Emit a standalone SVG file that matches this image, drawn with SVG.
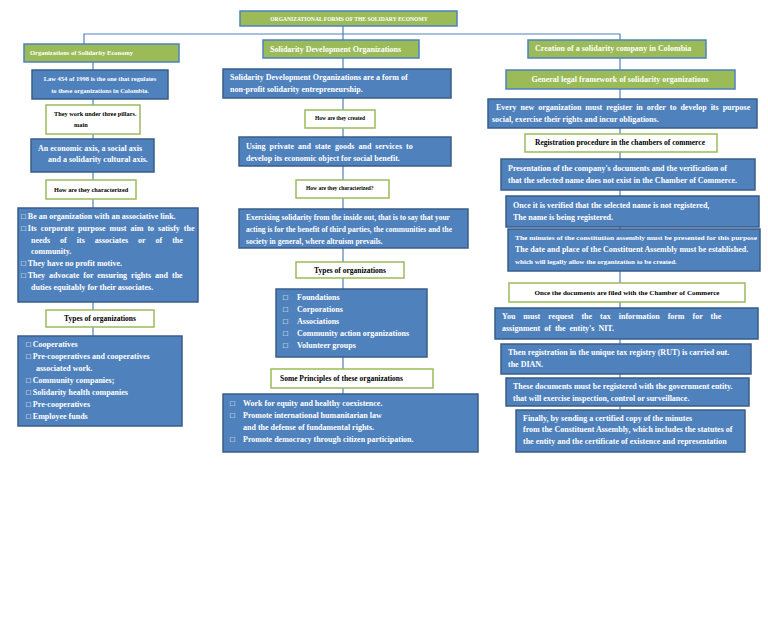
<svg xmlns="http://www.w3.org/2000/svg" width="768" height="637" viewBox="0 0 768 637">
<style>
text{font-family:"Liberation Serif","DejaVu Serif",serif;font-weight:bold;font-size:8px}
.b{fill:#4F81BD;stroke:#385D8A;stroke-width:1.5}
.g{fill:#9BBB59;stroke:#4F81BD;stroke-width:1.5}
.w{fill:#fff;stroke:#9BBB59;stroke-width:1.5}
.tw{fill:#fff}
.tk{fill:#000}
.c{stroke:#4F81BD;stroke-width:1.2;fill:none}
</style>
<rect width="768" height="637" fill="#fff"/>
<g id="connectors">
<path class="c" d="M84 44V34H620V40M343 26V40M93 62V336M343 58V394M620 58V410"/>
</g>
<g id="title"><rect class="g" x="240" y="11" width="217" height="15"/><text class="tw" x="349" y="21" text-anchor="middle" style="font-size:5.6px">ORGANIZATIONAL FORMS OF THE SOLIDARY ECONOMY</text></g>

<g id="l1"><rect class="g" x="24" y="44" width="155" height="18"/><text class="tw" x="30" y="55" style="font-size:6.5px">Organizations of Solidarity Economy</text></g>
<g id="l2"><rect class="b" x="32" y="70" width="136" height="29"/><text class="tw" style="font-size:6.5px"><tspan x="100" y="81" text-anchor="middle">Law 454 of 1998 is the one that regulates</tspan><tspan x="100" y="93" text-anchor="middle">to these organizations in Colombia.</tspan></text></g>
<g id="l3"><rect class="w" x="46" y="105" width="94" height="29"/><text class="tk" x="54" y="116" style="font-size:6.3px">They work under three pillars.<tspan x="74" dy="11">main</tspan></text></g>
<g id="l4"><rect class="b" x="31" y="139" width="123" height="33"/><text class="tw" x="38" y="151">An economic axis, a social axis<tspan x="48" dy="11">and a solidarity cultural axis.</tspan></text></g>
<g id="l5"><rect class="w" x="46" y="180" width="90" height="19"/><text class="tk" x="54" y="192" style="font-size:6.3px">How are they characterized</text></g>
<g id="l6"><rect class="b" x="18" y="208" width="180" height="94"/><text class="tw" xml:space="preserve"><tspan x="21" y="219">□ Be an organization with an associative link.</tspan><tspan x="21" y="231">□ Its  corporate  purpose  must  aim  to  satisfy  the</tspan><tspan x="31" y="243">needs     of     its     associates     or     of     the</tspan><tspan x="31" y="254">community.</tspan><tspan x="21" y="266">□ They have no profit motive.</tspan><tspan x="21" y="278">□ They  advocate  for  ensuring  rights  and  the</tspan><tspan x="31" y="290">duties equitably for their associates.</tspan></text></g>
<g id="l7"><rect class="w" x="46" y="310" width="108" height="17"/><text class="tk" x="100" y="321" text-anchor="middle" style="font-size:7.5px">Types of organizations</text></g>
<g id="l8"><rect class="b" x="18" y="336" width="164" height="90"/><text class="tw"><tspan x="26" y="347">□ Cooperatives</tspan><tspan x="26" y="359">□ Pre-cooperatives and cooperatives</tspan><tspan x="36" y="371">associated work.</tspan><tspan x="26" y="383">□ Community companies;</tspan><tspan x="26" y="395">□ Solidarity health companies</tspan><tspan x="26" y="407">□ Pre-cooperatives</tspan><tspan x="26" y="419">□ Employee funds</tspan></text></g>

<g id="m1"><rect class="g" x="263" y="40" width="156" height="18"/><text class="tw" x="270" y="52">Solidarity Development Organizations</text></g>
<g id="m2"><rect class="b" x="223" y="69" width="228" height="29"/><text class="tw"><tspan x="230" y="80">Solidarity Development Organizations are a form of</tspan><tspan x="230" y="92">non-profit solidarity entrepreneurship.</tspan></text></g>
<g id="m3"><rect class="w" x="305" y="110" width="70" height="18"/><text class="tk" x="315" y="120" style="font-size:5.5px">How are they created</text></g>
<g id="m4"><rect class="b" x="239" y="137" width="212" height="29"/><text class="tw" xml:space="preserve"><tspan x="246" y="149">Using  private  and  state  goods  and  services  to</tspan><tspan x="246" y="161">develop its economic object for social benefit.</tspan></text></g>
<g id="m5"><rect class="w" x="296" y="180" width="93" height="18"/><text class="tk" x="306" y="190" style="font-size:5.5px">How are they characterized?</text></g>
<g id="m6"><rect class="b" x="239" y="209" width="229" height="39"/><text class="tw" style="font-size:7.5px"><tspan x="246" y="220">Exercising solidarity from the inside out, that is to say that your</tspan><tspan x="246" y="232">acting is for the benefit of third parties, the communities and the</tspan><tspan x="246" y="244">society in general, where altruism prevails.</tspan></text></g>
<g id="m7"><rect class="w" x="296" y="262" width="108" height="16"/><text class="tk" x="350" y="273" text-anchor="middle" style="font-size:7.5px">Types of organizations</text></g>
<g id="m8"><rect class="b" x="276" y="289" width="151" height="68"/><text class="tw"><tspan x="283" y="300">□</tspan><tspan x="297" y="300">Foundations</tspan><tspan x="283" y="312">□</tspan><tspan x="297" y="312">Corporations</tspan><tspan x="283" y="324">□</tspan><tspan x="297" y="324">Associations</tspan><tspan x="283" y="336">□</tspan><tspan x="297" y="336">Community action organizations</tspan><tspan x="283" y="348">□</tspan><tspan x="297" y="348">Volunteer groups</tspan></text></g>
<g id="m9"><rect class="w" x="271" y="369" width="162" height="19"/><text class="tk" x="280" y="381" style="font-size:7.5px">Some Principles of these organizations</text></g>
<g id="m10"><rect class="b" x="223" y="394" width="255" height="58"/><text class="tw"><tspan x="230" y="406">□</tspan><tspan x="243" y="406">Work for equity and healthy coexistence.</tspan><tspan x="230" y="418">□</tspan><tspan x="243" y="418">Promote international humanitarian law</tspan><tspan x="243" y="430">and the defense of fundamental rights.</tspan><tspan x="230" y="442">□</tspan><tspan x="243" y="442">Promote democracy through citizen participation.</tspan></text></g>

<g id="r1"><rect class="g" x="528" y="40" width="178" height="18"/><text class="tw" x="535" y="51">Creation of a solidarity company in Colombia</text></g>
<g id="r2"><rect class="g" x="506" y="70" width="229" height="19"/><text class="tw" x="620" y="82" text-anchor="middle">General legal framework of solidarity organizations</text></g>
<g id="r3"><rect class="b" x="488" y="99" width="269" height="29"/><text class="tw" xml:space="preserve"><tspan x="496" y="110">Every  new  organization  must  register  in  order  to  develop  its  purpose</tspan><tspan x="492" y="122">social, exercise their rights and incur obligations.</tspan></text></g>
<g id="r4"><rect class="w" x="525" y="134" width="192" height="18"/><text class="tk" x="535" y="145" style="font-size:7.5px">Registration procedure in the chambers of commerce</text></g>
<g id="r5"><rect class="b" x="501" y="159" width="254" height="31"/><text class="tw"><tspan x="508" y="171">Presentation of the company's documents and the verification of</tspan><tspan x="508" y="183">that the selected name does not exist in the Chamber of Commerce.</tspan></text></g>
<g id="r6"><rect class="b" x="506" y="196" width="253" height="31"/><text class="tw"><tspan x="513" y="208">Once it is verified that the selected name is not registered,</tspan><tspan x="513" y="220">The name is being registered.</tspan></text></g>
<g id="r7"><rect class="b" x="508" y="229" width="252" height="42"/><text class="tw" x="515" y="240" style="font-size:5.8px" textLength="242" lengthAdjust="spacingAndGlyphs">The minutes of the constitution assembly must be presented for this purpose</text><text class="tw" x="515" y="252">The date and place of the Constituent Assembly must be established.</text><text class="tw" x="515" y="264" style="font-size:7px">which will legally allow the organization to be created.</text></g>
<g id="r8"><rect class="w" x="509" y="283" width="236" height="19"/><text class="tk" x="627" y="295" text-anchor="middle" style="font-size:7px">Once the documents are filed with the Chamber of Commerce</text></g>
<g id="r9"><rect class="b" x="495" y="308" width="263" height="31"/><text class="tw" xml:space="preserve"><tspan x="502" y="319">You    must    request    the    tax    information    form    for    the</tspan><tspan x="502" y="331">assignment  of  the  entity's  NIT.</tspan></text></g>
<g id="r10"><rect class="b" x="501" y="344" width="250" height="30"/><text class="tw"><tspan x="508" y="355">Then registration in the unique tax registry (RUT) is carried out.</tspan><tspan x="508" y="367">the DIAN.</tspan></text></g>
<g id="r11"><rect class="b" x="506" y="378" width="243" height="28"/><text class="tw"><tspan x="513" y="389">These documents must be registered with the government entity.</tspan><tspan x="513" y="401">that will exercise inspection, control or surveillance.</tspan></text></g>
<g id="r12"><rect class="b" x="516" y="410" width="229" height="42"/><text class="tw"><tspan x="523" y="421">Finally, by sending a certified copy of the minutes</tspan><tspan x="523" y="432">from the Constituent Assembly, which includes the statutes of</tspan><tspan x="523" y="444">the entity and the certificate of existence and representation</tspan></text></g>
</svg>
